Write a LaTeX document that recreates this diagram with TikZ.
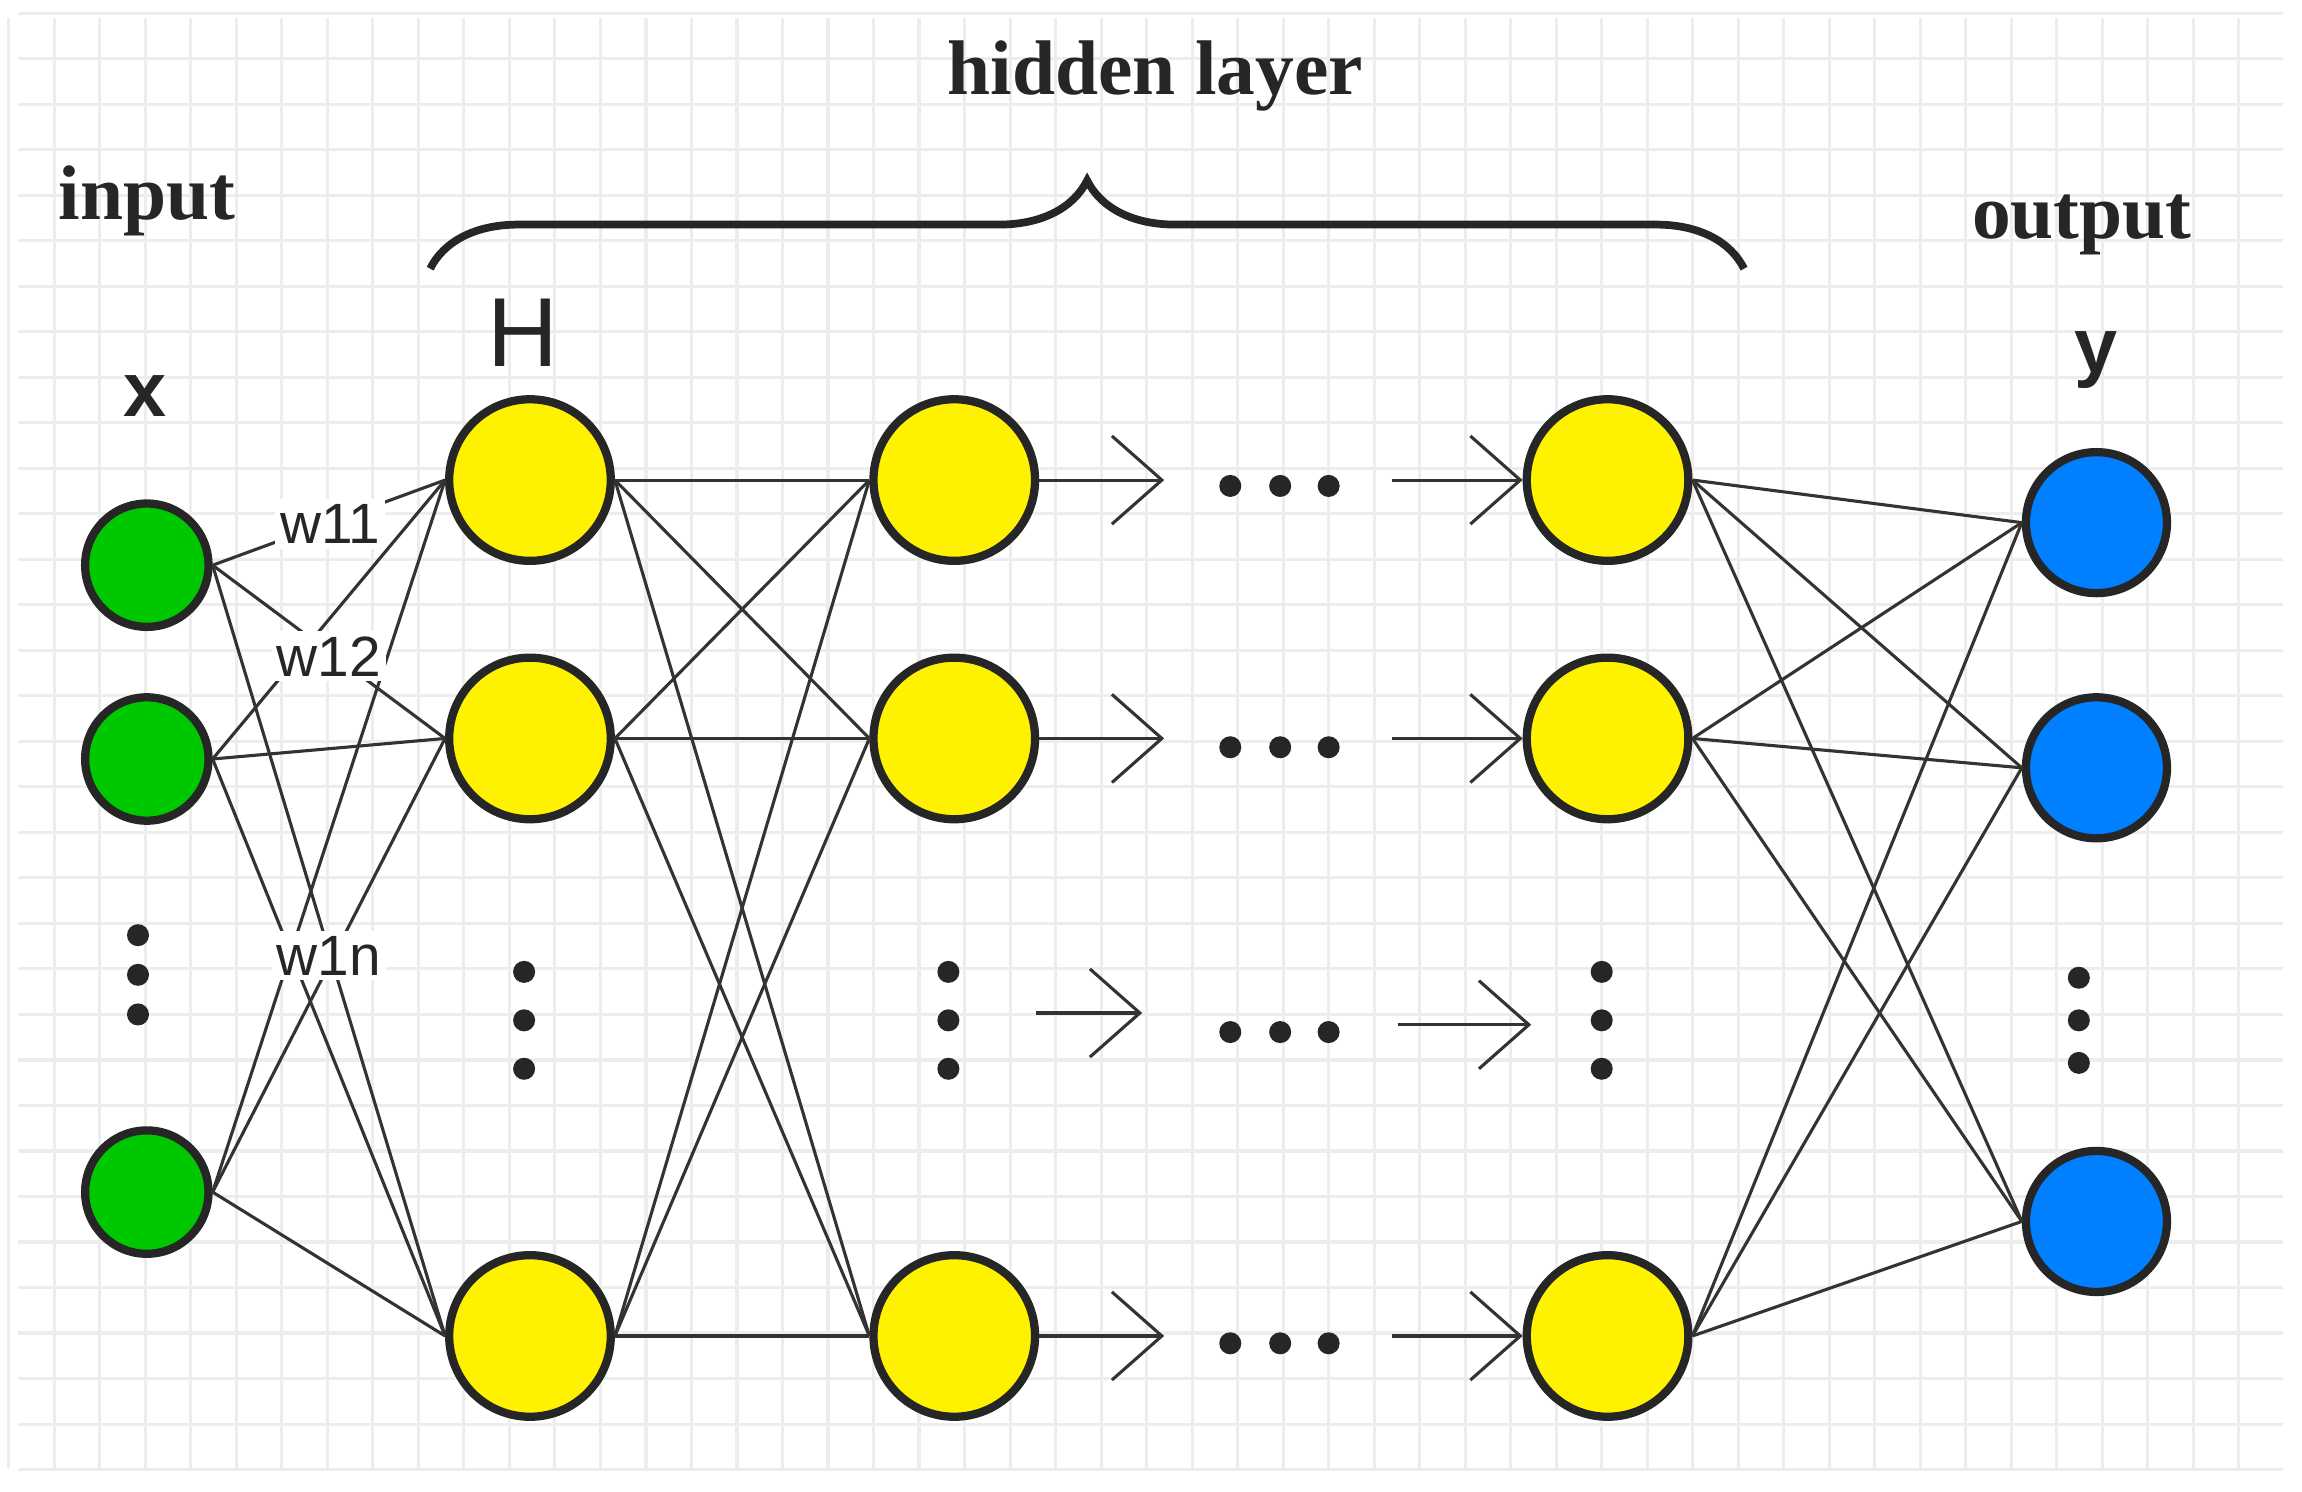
\documentclass[tikz,border=0pt]{standalone}
\usepackage{fontspec}
\setmainfont{Liberation Serif}
\newfontfamily\sansf{Liberation Sans}
\usetikzlibrary{arrows.meta,decorations.pathreplacing}
\begin{document}
\begin{tikzpicture}[x=0.01cm,y=-0.01cm,
  neur/.style={circle,draw=black!85,line width=1.6pt,inner sep=0pt},
  inp/.style={neur,fill={rgb,255:red,0;green,200;blue,0},minimum size=0.84cm},
  hid/.style={neur,fill=yellow,minimum size=1.1cm},
  outp/.style={neur,fill={rgb,255:red,0;green,127;blue,255},minimum size=0.96cm},
  edge/.style={draw=black!80,line width=0.6pt},
  arr/.style={edge,-{Straight Barb[length=0.34cm,width=0.6cm,line width=0.6pt]}},
  dot/.style={circle,fill=black!85,inner sep=0pt,minimum size=0.15cm},
  wlab/.style={fill=white,inner sep=1pt,font=\sansf\fontsize{11}{11}\selectfont,text=black!85},
  title/.style={font=\bfseries\fontsize{15}{15}\selectfont,text=black!85}]
\useasboundingbox (0,0) rectangle (1568,1016);
\fill[white] (0,0) rectangle (1568,1016);
% grid
\foreach \i in {0,...,49} \draw[black!7,line width=0.6pt] ({6+31*\i},12) -- ({6+31*\i},1000);
\foreach \j in {0,...,32} \draw[black!7,line width=0.6pt] (12,{9+31*\j}) -- (1555,{9+31*\j});
% nodes
\node[inp] (x1) at (100,385) {};
\node[inp] (x2) at (100,517) {};
\node[inp] (xn) at (100,812) {};
\foreach \c/\xx in {a/361,b/650,c/1095}{
  \node[hid] (\c1) at (\xx,327) {};
  \node[hid] (\c2) at (\xx,503) {};
  \node[hid] (\c n) at (\xx,910) {};
}
\node[outp] (y1) at (1428,356) {};
\node[outp] (y2) at (1428,523) {};
\node[outp] (yn) at (1428,832) {};
% edges
\foreach \s in {x1,x2,xn} \foreach \t in {a1,a2,an} \draw[edge] (\s.east) -- (\t.west);
\foreach \s in {a1,a2,an} \foreach \t in {b1,b2,bn} \draw[edge] (\s.east) -- (\t.west);
\foreach \s in {c1,c2,cn} \foreach \t in {y1,y2,yn} \draw[edge] (\s.east) -- (\t.west);
\node[wlab] (w11) at (225,357) {w11};
\node[wlab] (w12) at (224,447) {w12};
\node[wlab] (w1n) at (224,651) {w1n};
% vertical dots
\foreach \n/\xx/\ya in {vi/94/637,va/357/662,vb/646/662,vc/1091/662,vo/1416/666}{
  \node[dot] (\n1) at (\xx,\ya) {};
}
\node[dot] (vi2) at (94,664) {}; \node[dot] (vi3) at (94,691) {};
\foreach \n/\xx in {va/357,vb/646,vc/1091}{
  \node[dot] (\n2) at (\xx,695) {}; \node[dot] (\n3) at (\xx,728) {};}
\node[dot] (vo2) at (1416,695) {}; \node[dot] (vo3) at (1416,724) {};
% horizontal dots and arrows
\foreach \r/\yy in {1/331,2/509,4/915}{
  \node[dot] (h\r a) at (838,\yy) {};
  \node[dot] (h\r b) at (872,\yy) {};
  \node[dot] (h\r c) at (905,\yy) {};
}
\node[dot] (h3a) at (838,703) {}; \node[dot] (h3b) at (872,703) {}; \node[dot] (h3c) at (905,703) {};
\coordinate (e1) at (793,327); \coordinate (s1) at (948,327);
\coordinate (e2) at (793,503); \coordinate (s2) at (948,503);
\coordinate (en) at (793,910); \coordinate (sn) at (948,910);
\draw[arr] (b1) -- (e1); \draw[arr] (s1) -- (c1);
\draw[arr] (b2) -- (e2); \draw[arr] (s2) -- (c2);
\draw[arr] (bn) -- (en); \draw[arr] (sn) -- (cn);
\coordinate (m1) at (706,690); \coordinate (m2) at (778,690);
\coordinate (m3) at (952,698); \coordinate (m4) at (1043,698);
\draw[arr] (m1) -- (m2); \draw[arr] (m3) -- (m4);
% brace
\coordinate (bl) at (293,183); \coordinate (br) at (1188,183);
\draw[black!85,line width=1.5pt,decorate,decoration={brace,amplitude=0.6cm,aspect=0.5}] (bl) -- (br);
% texts
\node[title] (hl) at (787,52) {hidden layer};
\node[title] (in) at (100,137) {input};
\node[title] (out) at (1418,153) {output};
\node[font=\sansf\bfseries\fontsize{15}{15}\selectfont,text=black!85] (xl) at (99,270) {x};
\node[font=\sansf\bfseries\fontsize{15}{15}\selectfont,text=black!85] (yl) at (1428,245) {y};
\node[font=\sansf\fontsize{19}{19}\selectfont,text=black!85] (H) at (356,227) {H};
\end{tikzpicture}
\end{document}
